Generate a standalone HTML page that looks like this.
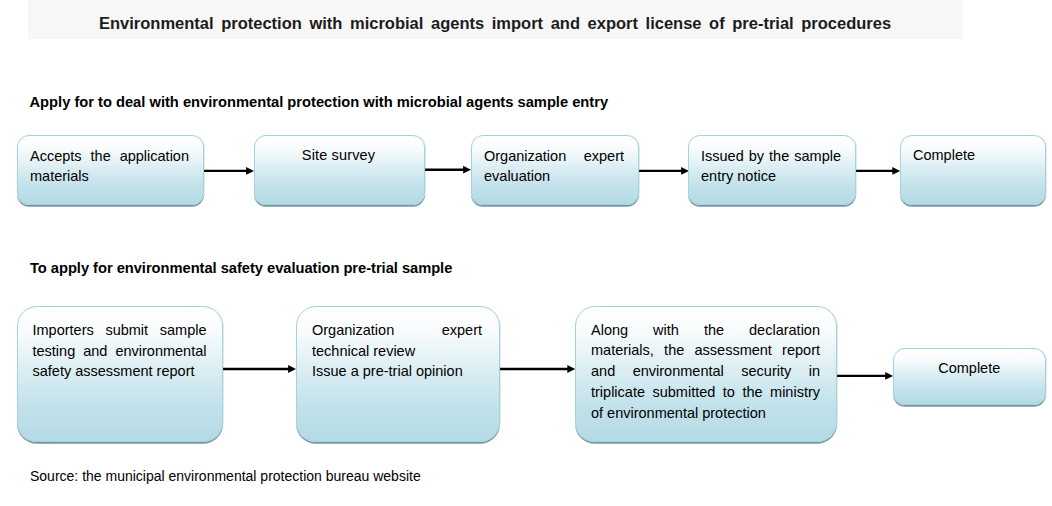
<!DOCTYPE html>
<html><head><meta charset="utf-8">
<style>
html,body{margin:0;padding:0;background:#fff;}
body{width:1052px;height:506px;position:relative;overflow:hidden;font-family:"Liberation Sans",sans-serif;color:#000;}
.banner{position:absolute;left:28px;top:0;width:935px;height:39px;background:#f7f7f7;}
.title{position:absolute;left:99px;top:13.4px;line-height:20px;font-weight:bold;font-size:16.5px;color:#1c1c1c;word-spacing:3px;white-space:nowrap;}
.h{position:absolute;left:30px;line-height:20px;font-weight:bold;font-size:14.7px;white-space:nowrap;}
.box{position:absolute;box-sizing:border-box;border:1px solid #a3d2df;border-radius:12px;
 background:linear-gradient(to bottom,#ffffff 0%,#f9fcfd 18%,#d8ecf2 50%,#c0e1ea 76%,#b5dae4 100%);
 box-shadow:0 1.8px 0.5px rgba(70,120,135,0.75),0.7px 0.3px 0.5px rgba(90,140,155,0.25);}
.r2{border-radius:20px;}
.t{position:absolute;font-size:14.5px;white-space:nowrap;}
.t div{white-space:nowrap;}
.t .jl{text-align:justify;text-align-last:justify;white-space:normal;}
svg.arr{position:absolute;left:0;top:0;}
.src{position:absolute;left:30px;top:465.5px;line-height:20px;font-size:14px;white-space:nowrap;}
</style></head><body>
<div class="banner"></div>
<div class="title">Environmental protection with microbial agents import and export license of pre-trial procedures</div>

<div class="h" style="top:91.7px;left:29.5px">Apply for to deal with environmental protection with microbial agents sample entry</div>
<div class="h" style="top:257.9px;letter-spacing:-0.03px">To apply for environmental safety evaluation pre-trial sample</div>

<svg class="arr" width="1052" height="506" viewBox="0 0 1052 506">
<g stroke="#000" stroke-width="2.4" fill="none">
<line x1="200" y1="170.9" x2="247" y2="170.9"/>
<line x1="421" y1="169.7" x2="464" y2="169.7"/>
<line x1="635" y1="170.9" x2="682" y2="170.9"/>
<line x1="852" y1="170.9" x2="893" y2="170.9"/>
<line x1="220" y1="369.0" x2="289" y2="369.0"/>
<line x1="496" y1="369.0" x2="568" y2="369.0"/>
<line x1="834" y1="375.9" x2="886" y2="375.9"/>
</g>
<g fill="#000">
<polygon points="246.1,167.0 254,170.9 246.1,174.8"/>
<polygon points="463.1,165.8 471,169.7 463.1,173.6"/>
<polygon points="681.1,167.0 689,170.9 681.1,174.8"/>
<polygon points="892.3,167.0 900.2,170.9 892.3,174.8"/>
<polygon points="288.1,365.1 296,369.0 288.1,372.9"/>
<polygon points="567.3,365.1 575.2,369.0 567.3,372.9"/>
<polygon points="885.2,372.0 893.1,375.9 885.2,379.8"/>
</g>
</svg>

<div class="box" style="left:17px;top:135px;width:186.5px;height:69.5px;"></div>
<div class="t" style="left:30px;top:146px;width:159px;line-height:20px;"><div class="jl">Accepts the application</div><div>materials</div></div>

<div class="box" style="left:254px;top:135px;width:171px;height:69.5px;"></div>
<div class="t" style="left:253px;top:145px;width:171px;line-height:20px;text-align:center;letter-spacing:0.15px;"><div>Site survey</div></div>

<div class="box" style="left:471px;top:135px;width:167.5px;height:69.5px;"></div>
<div class="t" style="left:484px;top:146px;width:140px;line-height:20px;"><div class="jl">Organization expert</div><div>evaluation</div></div>

<div class="box" style="left:688px;top:135px;width:168px;height:69.5px;"></div>
<div class="t" style="left:701px;top:146px;width:140px;line-height:20px;"><div class="jl">Issued by the sample</div><div>entry notice</div></div>

<div class="box" style="left:900px;top:135px;width:146px;height:69.5px;"></div>
<div class="t" style="left:913px;top:145px;width:120px;line-height:20px;"><div>Complete</div></div>

<div class="box r2" style="left:17px;top:306px;width:206.3px;height:135.5px;"></div>
<div class="t" style="left:32.5px;top:320.2px;width:174px;line-height:20.4px;"><div class="jl">Importers submit sample</div><div class="jl">testing and environmental</div><div>safety assessment report</div></div>

<div class="box r2" style="left:296px;top:306px;width:203.6px;height:135.5px;"></div>
<div class="t" style="left:312px;top:320.2px;width:170px;line-height:20.4px;"><div class="jl">Organization expert</div><div>technical review</div><div>Issue a pre-trial opinion</div></div>

<div class="box r2" style="left:575px;top:306px;width:262.4px;height:135.5px;"></div>
<div class="t" style="left:591px;top:319.7px;width:229px;line-height:20.7px;"><div class="jl">Along with the declaration</div><div class="jl">materials, the assessment report</div><div class="jl">and environmental security in</div><div class="jl">triplicate submitted to the ministry</div><div>of environmental protection</div></div>

<div class="box" style="left:893px;top:348px;width:152.5px;height:56.5px;"></div>
<div class="t" style="left:893px;top:358.1px;width:152.5px;line-height:20px;text-align:center;"><div>Complete</div></div>

<div class="src">Source: the municipal environmental protection bureau website</div>
</body></html>
